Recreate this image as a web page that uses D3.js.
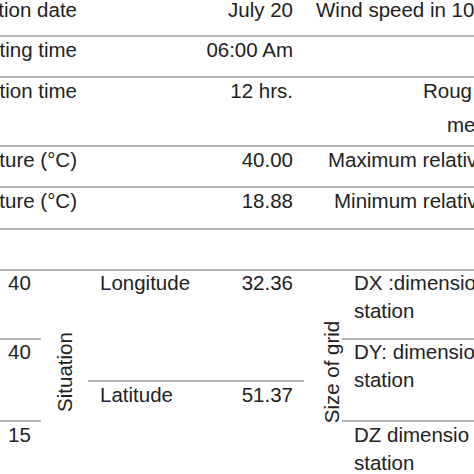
<!DOCTYPE html>
<html><head><meta charset="utf-8">
<script src="https://d3js.org/d3.v7.min.js"></script>
<style>body{margin:0;background:#fff}svg text{font-family:"Liberation Sans",Arial,sans-serif;font-size:20.5px;fill:#222}</style>
</head><body><svg id="c" width="474" height="474"></svg>
<script>
const topLabels = ["tion date","ting time","tion time","ture (°C)","ture (°C) "];
const topValues = ["July 20","06:00 Am","12 hrs.","40.00","18.88"];
const rightLabels = ["Wind speed in 10","","Roug","Maximum relativ","Minimum relativ"];
const bottomLeftValues = ["40","40","15"];
const situationLabels = ["Longitude","Latitude"];
const situationValues = ["32.36","51.37"];
const gridLabels = ["DX :dimensio","DY: dimensio","DZ dimensio"];

const svg = d3.select("#c");
const line = (x1,x2,y)=>svg.append("line").attr("x1",x1).attr("x2",x2).attr("y1",y).attr("y2",y).attr("stroke","#9a9a9a").attr("stroke-width",1.5);
const txt = (s,x,y,a)=>svg.append("text").attr("x",x).attr("y",y).attr("text-anchor",a||"start").text(s);

const yTop = d3.scaleOrdinal().domain(topLabels).range([17,57,98,167,208]);
const rightX = [316,0,423,328,334];
topLabels.forEach((l,i)=>{
  txt(l.trim(),77,yTop(l),"end");
  txt(topValues[i],293,yTop(l),"end");
  if(rightLabels[i]){
    txt(rightLabels[i],rightX[i],yTop(l));
    if(i===2) txt("me",447,yTop(l)+34);
  }
});
[36,77,146,187,229,270].forEach(y=>line(0,474,y));

const yBL = d3.scaleOrdinal().domain([0,1,2]).range([290,359,442]);
bottomLeftValues.forEach((v,i)=>txt(v,8,yBL(i)));
line(0,41,339); line(0,41,421);

const ySit = d3.scaleOrdinal().domain(situationLabels).range([290,402]);
situationLabels.forEach((l,i)=>{txt(l,100,ySit(l));txt(situationValues[i],293,ySit(l),"end");});
line(88,304,381);
svg.append("text").attr("transform","translate(72,372) rotate(-90)").attr("text-anchor","middle").text("Situation");
svg.append("text").attr("transform","translate(339,372) rotate(-90)").attr("text-anchor","middle").text("Size of grid");

const yGrid = d3.scaleOrdinal().domain(gridLabels).range([290,359,442]);
gridLabels.forEach(l=>{ txt(l,354,yGrid(l)); txt("station",354,yGrid(l)+28); });
line(342,474,339); line(342,474,421);
</script></body></html>
